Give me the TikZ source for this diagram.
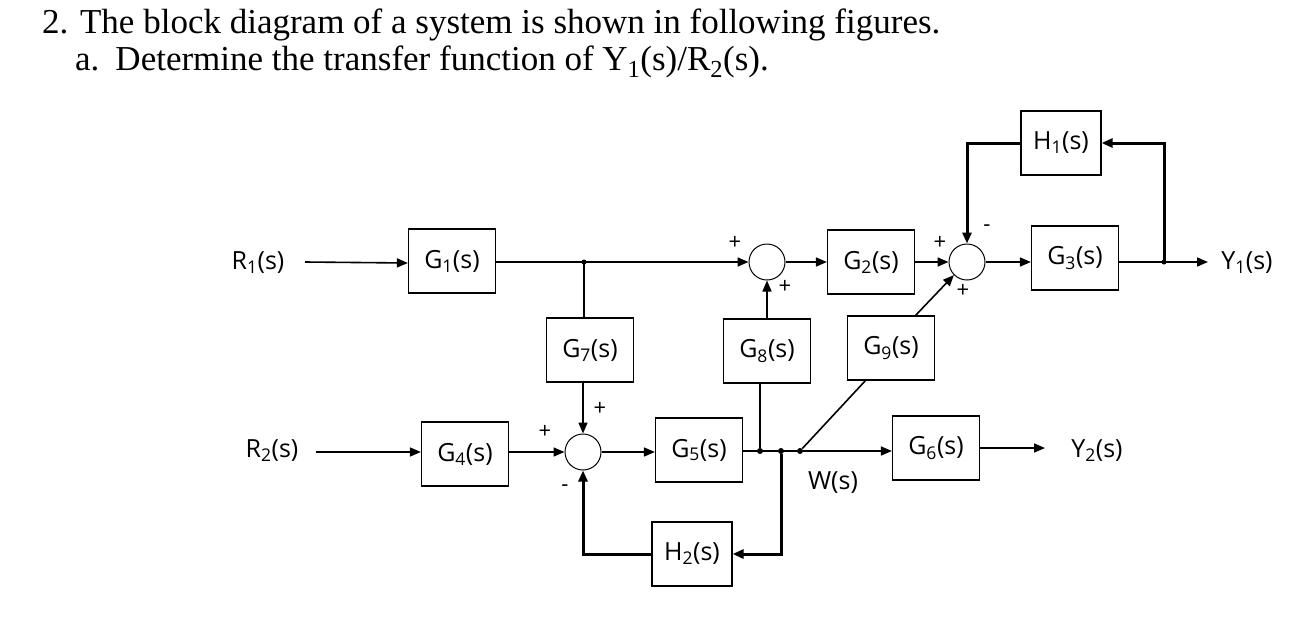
\documentclass[tikz,border=0pt]{standalone}
\usepackage{fontspec}
\setmainfont{Liberation Serif}
\newfontfamily\dsans{Open Sans}
\usetikzlibrary{arrows.meta}
\begin{document}
\begin{tikzpicture}[x=1pt,y=-1pt,
  blk/.style={draw,line width=1.2pt,minimum width=87pt,minimum height=64pt,inner sep=0pt,font=\dsans\fontsize{25}{28}\selectfont},
  sm/.style={draw,circle,line width=1pt,minimum size=36pt,inner sep=0pt},
  lab/.style={font=\dsans\fontsize{25}{28}\selectfont,inner sep=1pt},
  sg/.style={font=\dsans\fontsize{22}{24}\selectfont,inner sep=0pt},
  w/.style={line width=1.6pt},
  tk/.style={line width=3pt},
  ar/.style={-{Triangle[length=11pt,width=9pt]}},
  dot/.style={circle,fill,inner sep=0pt,minimum size=6pt}]
\useasboundingbox (0,0) rectangle (1307,619);
\node[anchor=base west,font=\fontsize{35}{38}\selectfont,inner sep=0pt] (t1) at (42,33) {2. The block diagram of a system is shown in following figures.};
\node[anchor=base west,font=\fontsize{35}{38}\selectfont,inner sep=0pt] (t2) at (75,70) {a.\hspace{16pt}Determine the transfer function of Y\textsubscript{1}(s)/R\textsubscript{2}(s).};
% row 1
\node[lab] (R1) at (258,263) {R\textsubscript{1}(s)};
\node[blk] (G1) at (452,261) {G\textsubscript{1}(s)};
\coordinate (j1) at (584,262);
\node[sm] (S1) at (767,262) {};
\node[blk] (G2) at (871,262) {G\textsubscript{2}(s)};
\node[sm] (S2) at (967,262) {};
\node[blk] (G3) at (1075,258) {G\textsubscript{3}(s)};
\coordinate (j3) at (1164,262);
\coordinate (y1e) at (1208,262);
\node[lab] (Y1) at (1247,263) {Y\textsubscript{1}(s)};
\node[blk,minimum width=80pt] (H1) at (1061,143) {H\textsubscript{1}(s)};
% row 2
\node[blk] (G7) at (590,350) {G\textsubscript{7}(s)};
\node[blk] (G8) at (767,351) {G\textsubscript{8}(s)};
\node[blk] (G9) at (891,348) {G\textsubscript{9}(s)};
% row 3
\node[lab] (R2) at (272,451) {R\textsubscript{2}(s)};
\node[blk] (G4) at (465,454) {G\textsubscript{4}(s)};
\node[sm] (S3) at (583,452) {};
\node[blk] (G5) at (699,450) {G\textsubscript{5}(s)};
\node[dot] (ja) at (760,451) {};
\node[dot] (jb) at (781,451) {};
\node[dot] (jc) at (800,451) {};
\node[blk] (G6) at (936,448) {G\textsubscript{6}(s)};
\coordinate (y2e) at (1045,448);
\node[lab] (Y2) at (1097,451) {Y\textsubscript{2}(s)};
\node[lab] (W) at (833,483) {W(s)};
\node[blk,minimum width=80pt] (H2) at (692,554) {H\textsubscript{2}(s)};
\node[dot,minimum size=5pt] (d1) at (j1) {};
\node[dot,minimum size=5pt] (d3) at (j3) {};
% connectors
\draw[w,ar] (305,262) -- (G1.west |- R1);
\draw[w,ar] (G1.east |- S1) -- (S1.west);
\draw[w,ar] (S1.east) -- (G2.west);
\draw[w,ar] (G2.east |- S2) -- (S2.west);
\draw[w,ar] (S2.east) -- (G3.west |- S2);
\draw[w,ar] (G3.east |- S2) -- (y1e);
\draw[tk,ar] (j3) |- (H1.east);
\draw[tk,ar] (H1.west) -| (S2.north);
\draw[w] (j1) -- (G7.north -| j1);
\draw[w,ar] (G7.south -| S3) -- (S3.north);
\draw[w,ar] (316,452) -- (G4.west |- S3);
\draw[w,ar] (G4.east |- S3) -- (S3.west);
\draw[w,ar] (S3.east) -- (G5.west |- S3);
\draw[w] (G5.east |- ja) -- (jc);
\draw[w,ar] (jc) -- (G6.west |- jc);
\draw[w,ar] (G6.east |- y2e) -- (y2e);
\draw[w] (ja) -- (G8.south -| ja);
\draw[w,ar] (G8.north -| S1) -- (S1.south);
\draw[w] (jc) -- (866,380);
\draw[w,ar] (915,316) -- (S2.south west);
\draw[tk,ar] (jb) |- (H2.east);
\draw[tk,ar] (H2.west) -| (S3.south);
% signs
\node[sg] (p1) at (735,243) {+};
\node[sg] (p2) at (785,287) {+};
\node[sg] (p3) at (940,243) {+};
\node[sg] (p4) at (987,228) {-};
\node[sg] (p5) at (963,291) {+};
\node[sg] (p6) at (600,409) {+};
\node[sg] (p7) at (545,432) {+};
\node[sg] (p8) at (565,488) {-};
\end{tikzpicture}
\end{document}
